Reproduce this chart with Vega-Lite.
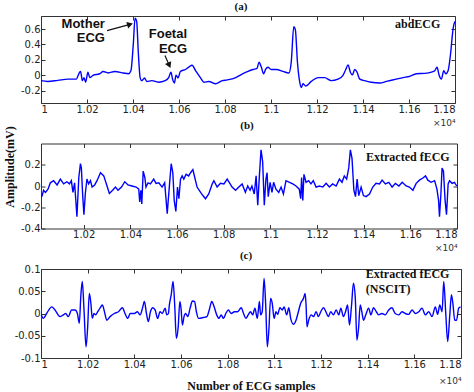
{
  "$schema": "https://vega.github.io/schema/vega-lite/v6.json",
  "padding": {"left": 2, "top": 0, "right": 2, "bottom": 2},
  "background": "white",
  "config": {
    "view": {"stroke": "#333333", "strokeWidth": 1},
    "axis": {"grid": false, "domain": false, "tickSize": -4, "tickColor": "#333333", "tickWidth": 1,
      "labelFont": "DejaVu Sans", "labelFontSize": 10, "labelColor": "#222222", "labelPadding": 5,
      "titleFont": "DejaVu Sans", "titleFontSize": 9, "titleFontWeight": "normal", "titleColor": "#333333"},
    "title": {"font": "Liberation Serif", "fontSize": 12, "fontWeight": "bold", "color": "#111111"}
  },
  "datasets": {
    "a": [
      {"s":10000,"v":-0.07},{"s":10029,"v":-0.08},{"s":10073,"v":-0.066},{"s":10117,"v":-0.05},{"s":10153,"v":-0.05},
      {"s":10168,"v":0.04},{"s":10172,"v":0.05},{"s":10180,"v":-0.07},{"s":10187,"v":-0.03},{"s":10194,"v":-0.09},
      {"s":10204,"v":0.04},{"s":10212,"v":-0.03},{"s":10226,"v":0},{"s":10255,"v":0.02},{"s":10270,"v":0.05},
      {"s":10292,"v":0.03},{"s":10321,"v":0.05},{"s":10358,"v":0.03},{"s":10380,"v":0.02},{"s":10391,"v":0.06},
      {"s":10401,"v":0.39},{"s":10409,"v":0.74},{"s":10416,"v":0.70},{"s":10423,"v":0.3},{"s":10431,"v":-0.03},
      {"s":10438,"v":-0.07},{"s":10450,"v":-0.035},{"s":10460,"v":-0.08},{"s":10482,"v":-0.07},{"s":10511,"v":-0.09},
      {"s":10540,"v":-0.07},{"s":10555,"v":-0.03},{"s":10565,"v":0.04},{"s":10572,"v":-0.05},{"s":10580,"v":-0.10},
      {"s":10587,"v":0},{"s":10596,"v":-0.035},{"s":10606,"v":0.05},{"s":10628,"v":0.075},{"s":10642,"v":0.105},
      {"s":10657,"v":0.13},{"s":10672,"v":0.06},{"s":10693,"v":-0.03},{"s":10708,"v":-0.09},{"s":10730,"v":-0.08},
      {"s":10759,"v":-0.11},{"s":10788,"v":-0.07},{"s":10810,"v":-0.06},{"s":10847,"v":-0.03},
      {"s":10878,"v":0.02},{"s":10900,"v":0.05},{"s":10922,"v":0.075},{"s":10939,"v":0.09},{"s":10948,"v":0.17},
      {"s":10958,"v":0.105},{"s":10968,"v":0.02},{"s":10977,"v":0.08},{"s":10987,"v":0.105},{"s":11001,"v":0.075},
      {"s":11023,"v":0.075},{"s":11052,"v":0.05},{"s":11078,"v":0.03},{"s":11088,"v":0.17},{"s":11099,"v":0.63},
      {"s":11106,"v":0.59},{"s":11115,"v":0.17},{"s":11125,"v":-0.09},{"s":11132,"v":-0.16},{"s":11139,"v":-0.11},
      {"s":11151,"v":-0.14},{"s":11175,"v":-0.08},{"s":11204,"v":-0.03},{"s":11233,"v":-0.03},{"s":11262,"v":-0.07},
      {"s":11291,"v":-0.05},{"s":11313,"v":0},{"s":11325,"v":0.075},{"s":11335,"v":0.135},{"s":11345,"v":0.04},
      {"s":11354,"v":0.005},{"s":11364,"v":0.075},{"s":11374,"v":0.04},{"s":11386,"v":-0.05},{"s":11407,"v":-0.07},
      {"s":11436,"v":-0.09},{"s":11473,"v":-0.10},{"s":11502,"v":-0.08},{"s":11545,"v":-0.05},{"s":11574,"v":-0.03},
      {"s":11603,"v":-0.015},{"s":11632,"v":0.02},{"s":11668,"v":0.025},{"s":11697,"v":0.04},{"s":11712,"v":0.06},
      {"s":11722,"v":0.105},{"s":11731,"v":0},{"s":11741,"v":-0.05},{"s":11751,"v":0.06},{"s":11760,"v":0.02},
      {"s":11770,"v":0.06},{"s":11780,"v":0.26},{"s":11792,"v":0.61},{"s":11799,"v":0.70}
    ],
    "b": [
      {"s":10021,"v":-0.10},{"s":10028,"v":-0.04},{"s":10036,"v":-0.06},{"s":10047,"v":-0.03},{"s":10057,"v":0.03},
      {"s":10071,"v":0.05},{"s":10086,"v":0.01},{"s":10100,"v":0.065},{"s":10114,"v":0.02},{"s":10128,"v":0.04},
      {"s":10139,"v":0.02},{"s":10147,"v":0.05},{"s":10154,"v":-0.06},{"s":10161,"v":0.03},{"s":10171,"v":-0.29},
      {"s":10179,"v":0.08},{"s":10186,"v":0.21},{"s":10190,"v":0.17},{"s":10196,"v":-0.10},{"s":10201,"v":-0.27},
      {"s":10207,"v":-0.07},{"s":10214,"v":0.065},{"s":10221,"v":0.02},{"s":10229,"v":0.05},{"s":10236,"v":-0.01},
      {"s":10247,"v":0.01},{"s":10257,"v":0.05},{"s":10272,"v":0.125},{"s":10286,"v":0.095},{"s":10300,"v":0},
      {"s":10310,"v":-0.07},{"s":10324,"v":-0.04},{"s":10336,"v":-0.01},{"s":10347,"v":-0.04},{"s":10362,"v":-0.01},
      {"s":10376,"v":0.04},{"s":10390,"v":0.01},{"s":10407,"v":0},{"s":10425,"v":-0.01},{"s":10436,"v":-0.03},
      {"s":10440,"v":-0.15},{"s":10445,"v":-0.04},{"s":10449,"v":-0.17},{"s":10455,"v":0.14},{"s":10462,"v":0.08},
      {"s":10467,"v":-0.01},{"s":10476,"v":0.03},{"s":10486,"v":0.02},{"s":10500,"v":0.065},{"s":10510,"v":0.025},
      {"s":10522,"v":0.03},{"s":10536,"v":-0.01},{"s":10547,"v":0.03},{"s":10558,"v":-0.26},{"s":10568,"v":0.02},
      {"s":10575,"v":0.21},{"s":10582,"v":0.125},{"s":10588,"v":-0.135},{"s":10595,"v":-0.24},{"s":10602,"v":-0.01},
      {"s":10608,"v":-0.12},{"s":10615,"v":0.065},{"s":10622,"v":0.095},{"s":10629,"v":0.065},{"s":10639,"v":0.11},
      {"s":10650,"v":0.095},{"s":10658,"v":0.125},{"s":10668,"v":0.155},{"s":10676,"v":0.08},{"s":10686,"v":-0.01},
      {"s":10701,"v":-0.06},{"s":10711,"v":-0.09},{"s":10722,"v":-0.12},{"s":10736,"v":-0.075},{"s":10751,"v":0.02},
      {"s":10758,"v":0.05},{"s":10772,"v":-0.01},{"s":10786,"v":0.025},{"s":10801,"v":0.02},{"s":10815,"v":0.065},
      {"s":10825,"v":0.03},{"s":10836,"v":-0.01},{"s":10851,"v":-0.04},{"s":10865,"v":-0.01},{"s":10879,"v":0.02},
      {"s":10893,"v":-0.06},{"s":10903,"v":0},{"s":10913,"v":-0.04},{"s":10921,"v":0},{"s":10931,"v":-0.075},
      {"s":10939,"v":0.095},{"s":10946,"v":-0.18},{"s":10953,"v":0.095},{"s":10960,"v":0.34},{"s":10967,"v":0.23},
      {"s":10974,"v":-0.18},{"s":10981,"v":0.065},{"s":10986,"v":0.125},{"s":10991,"v":-0.10},{"s":10999,"v":0.035},
      {"s":11007,"v":-0.06},{"s":11014,"v":0.035},{"s":11024,"v":-0.03},{"s":11036,"v":-0.06},{"s":11046,"v":-0.01},
      {"s":11056,"v":-0.075},{"s":11067,"v":0.05},{"s":11082,"v":0.035},{"s":11096,"v":0.02},{"s":11110,"v":0},
      {"s":11124,"v":-0.03},{"s":11130,"v":-0.12},{"s":11134,"v":0.08},{"s":11139,"v":-0.135},{"s":11144,"v":0.11},
      {"s":11153,"v":0.035},{"s":11164,"v":0.05},{"s":11174,"v":0.02},{"s":11184,"v":0.05},{"s":11196,"v":-0.01},
      {"s":11210,"v":0},{"s":11225,"v":-0.01},{"s":11239,"v":0.025},{"s":11253,"v":-0.01},{"s":11267,"v":0.02},
      {"s":11282,"v":0},{"s":11296,"v":0.065},{"s":11307,"v":0.035},{"s":11317,"v":0.095},{"s":11327,"v":0.065},
      {"s":11336,"v":0.17},{"s":11343,"v":0.34},{"s":11350,"v":0.26},{"s":11358,"v":-0.04},{"s":11365,"v":-0.10},
      {"s":11372,"v":0.065},{"s":11379,"v":-0.09},{"s":11389,"v":-0.01},{"s":11399,"v":-0.09},{"s":11410,"v":-0.10},
      {"s":11425,"v":-0.075},{"s":11439,"v":-0.01},{"s":11453,"v":0.025},{"s":11468,"v":0.02},{"s":11479,"v":0.055},
      {"s":11493,"v":0.02},{"s":11508,"v":0.035},{"s":11522,"v":-0.01},{"s":11536,"v":0.025},{"s":11551,"v":0},
      {"s":11565,"v":0.035},{"s":11582,"v":0},{"s":11596,"v":-0.01},{"s":11611,"v":-0.04},{"s":11625,"v":0.025},
      {"s":11639,"v":0.055},{"s":11654,"v":0.075},{"s":11665,"v":0.095},{"s":11675,"v":0.055},{"s":11689,"v":0.035},
      {"s":11704,"v":0.05},{"s":11714,"v":-0.03},{"s":11721,"v":-0.135},{"s":11725,"v":-0.29},{"s":11731,"v":-0.075},
      {"s":11736,"v":0.17},{"s":11742,"v":0.14},{"s":11749,"v":-0.135},{"s":11755,"v":-0.27},{"s":11762,"v":0.02},
      {"s":11768,"v":0.05},{"s":11779,"v":0.025},{"s":11789,"v":0.035},{"s":11799,"v":0}
    ],
    "c": [
      {"s":10001,"v":-0.003},{"s":10010,"v":-0.011},{"s":10024,"v":0},{"s":10046,"v":0.015},{"s":10060,"v":0.008},
      {"s":10081,"v":-0.007},{"s":10096,"v":-0.003},{"s":10106,"v":0},{"s":10117,"v":-0.007},{"s":10131,"v":0.008},
      {"s":10146,"v":0.008},{"s":10156,"v":0},{"s":10164,"v":-0.022},{"s":10171,"v":0.042},{"s":10177,"v":0.072},
      {"s":10184,"v":0.012},{"s":10193,"v":-0.075},{"s":10200,"v":-0.03},{"s":10207,"v":0.045},{"s":10213,"v":0.027},
      {"s":10220,"v":-0.011},{"s":10227,"v":0},{"s":10234,"v":-0.003},{"s":10243,"v":0.004},{"s":10253,"v":0.012},
      {"s":10263,"v":0.019},{"s":10272,"v":0.004},{"s":10282,"v":-0.015},{"s":10296,"v":-0.007},{"s":10314,"v":0},
      {"s":10332,"v":0.004},{"s":10349,"v":0.013},{"s":10360,"v":0},{"s":10372,"v":-0.011},{"s":10382,"v":0},
      {"s":10400,"v":0},{"s":10413,"v":0.004},{"s":10425,"v":-0.003},{"s":10435,"v":0.012},{"s":10443,"v":0.027},
      {"s":10452,"v":0},{"s":10460,"v":-0.018},{"s":10469,"v":0.004},{"s":10479,"v":0.013},{"s":10489,"v":0.008},
      {"s":10500,"v":-0.011},{"s":10510,"v":0.004},{"s":10520,"v":0},{"s":10532,"v":0.012},{"s":10539,"v":-0.003},
      {"s":10546,"v":0},{"s":10550,"v":0.019},{"s":10558,"v":0.042},{"s":10566,"v":0.072},{"s":10573,"v":0.019},
      {"s":10580,"v":-0.056},{"s":10588,"v":-0.03},{"s":10595,"v":0.027},{"s":10600,"v":0.012},{"s":10606,"v":-0.026},
      {"s":10613,"v":-0.007},{"s":10620,"v":0},{"s":10629,"v":-0.007},{"s":10639,"v":0.012},{"s":10649,"v":0.028},
      {"s":10658,"v":0.027},{"s":10666,"v":0.004},{"s":10675,"v":-0.011},{"s":10696,"v":-0.009},{"s":10711,"v":-0.007},
      {"s":10721,"v":0.008},{"s":10732,"v":0.027},{"s":10742,"v":0.015},{"s":10753,"v":-0.003},{"s":10763,"v":-0.011},
      {"s":10772,"v":-0.003},{"s":10782,"v":-0.011},{"s":10792,"v":0},{"s":10803,"v":0.008},{"s":10815,"v":0},
      {"s":10829,"v":0.004},{"s":10843,"v":0.004},{"s":10858,"v":0.013},{"s":10868,"v":0},{"s":10878,"v":-0.011},
      {"s":10888,"v":-0.003},{"s":10898,"v":0.004},{"s":10907,"v":-0.003},{"s":10917,"v":0.012},{"s":10927,"v":-0.011},
      {"s":10936,"v":0.027},{"s":10941,"v":-0.003},{"s":10948,"v":0.004},{"s":10956,"v":0.079},{"s":10963,"v":0.019},
      {"s":10970,"v":-0.075},{"s":10977,"v":-0.033},{"s":10984,"v":0.034},{"s":10991,"v":0.023},{"s":10999,"v":-0.011},
      {"s":11007,"v":0.004},{"s":11014,"v":-0.002},{"s":11024,"v":0.013},{"s":11034,"v":0.008},{"s":11042,"v":0.015},
      {"s":11053,"v":-0.003},{"s":11062,"v":0.013},{"s":11070,"v":-0.011},{"s":11082,"v":-0.024},{"s":11093,"v":-0.015},
      {"s":11103,"v":0.004},{"s":11113,"v":0.023},{"s":11125,"v":0.034},{"s":11132,"v":0.045},{"s":11136,"v":0.019},
      {"s":11140,"v":-0.03},{"s":11147,"v":-0.015},{"s":11158,"v":-0.003},{"s":11168,"v":-0.007},{"s":11179,"v":0.004},
      {"s":11189,"v":-0.007},{"s":11199,"v":0.004},{"s":11211,"v":0.013},{"s":11221,"v":0.004},{"s":11231,"v":-0.007},
      {"s":11242,"v":0.004},{"s":11253,"v":-0.003},{"s":11265,"v":0.008},{"s":11276,"v":-0.003},{"s":11285,"v":0.012},
      {"s":11296,"v":-0.007},{"s":11305,"v":0.004},{"s":11314,"v":0.019},{"s":11322,"v":-0.026},{"s":11331,"v":0.019},
      {"s":11339,"v":0.068},{"s":11347,"v":0.034},{"s":11354,"v":-0.06},{"s":11361,"v":-0.033},{"s":11368,"v":0.019},
      {"s":11375,"v":0.004},{"s":11382,"v":-0.015},{"s":11392,"v":-0.003},{"s":11404,"v":0.012},{"s":11414,"v":-0.003},
      {"s":11425,"v":0.013},{"s":11437,"v":0.004},{"s":11447,"v":-0.003},{"s":11461,"v":0},{"s":11475,"v":-0.003},
      {"s":11490,"v":0.008},{"s":11504,"v":0.013},{"s":11518,"v":0},{"s":11533,"v":-0.003},{"s":11547,"v":0.004},
      {"s":11561,"v":0},{"s":11576,"v":-0.002},{"s":11590,"v":0.008},{"s":11604,"v":0},{"s":11619,"v":0.004},
      {"s":11633,"v":0.012},{"s":11647,"v":-0.003},{"s":11662,"v":0.004},{"s":11676,"v":-0.007},{"s":11690,"v":0.015},
      {"s":11700,"v":-0.002},{"s":11709,"v":0.019},{"s":11719,"v":0.004},{"s":11726,"v":0.072},{"s":11735,"v":-0.003},
      {"s":11743,"v":-0.063},{"s":11752,"v":-0.003},{"s":11759,"v":0.042},{"s":11766,"v":0.019},{"s":11773,"v":-0.015},
      {"s":11781,"v":-0.015},{"s":11790,"v":0.012},{"s":11798,"v":0.015}
    ],
    "annA": [
      {"s":10278,"v":0.61,"t":"Mother"},{"s":10278,"v":0.43,"t":"ECG"},
      {"s":10635,"v":0.483,"t":"Foetal"},{"s":10635,"v":0.293,"t":"ECG"}
    ],
    "abd": [{"s":11539,"v":0.614,"t":"abdECG"}],
    "arrows": [{"s":10287,"v":0.58,"s2":10383,"v2":0.658},{"s":10539,"v":0.257,"s2":10556,"v2":0.141}],
    "head1": [{"s":10383,"v":0.658}],
    "head2": [{"s":10556,"v":0.141}],
    "annB": [{"s":11410,"v":0.236,"t":"Extracted fECG"}],
    "annC": [{"s":11392,"v":0.080,"t":"Extracted fECG"},{"s":11392,"v":0.047,"t":"(NSCIT)"}]
  },
  "vconcat": [
    {
      "width": 414, "height": 87,
      "title": {"text": "(a)", "fontSize": 11, "offset": 4, "dx": -7},
      "layer": [
        {
          "data": {"name": "a"},
          "mark": {"type": "line", "color": "#0000ff", "strokeWidth": 1.4, "interpolate": "monotone"},
          "encoding": {
            "x": {"field": "s", "type": "quantitative", "scale": {"domain": [10000, 11800], "nice": false, "zero": false},
              "axis": {"orient": "bottom", "values": [10000,10200,10400,10600,10800,11000,11200,11400,11600,11800], "labelExpr": "format(datum.value/10000, '.3~g')", "title": "×10⁴", "titleAnchor": "end", "titlePadding": 4}},
            "y": {"field": "v", "type": "quantitative", "scale": {"domain": [-0.36, 0.77], "nice": false, "zero": false},
              "axis": {"orient": "left", "values": [-0.2,0,0.2,0.4,0.6], "labelExpr": "replace(format(datum.value, '~g'), '−', '-')", "title": null}}
          }
        },
        {
          "data": {"name": "a"},
          "mark": {"type": "line", "opacity": 0},
          "encoding": {
            "x": {"field": "s", "type": "quantitative", "scale": {"domain": [10000, 11800], "nice": false, "zero": false},
              "axis": {"orient": "top", "values": [10000,10200,10400,10600,10800,11000,11200,11400,11600,11800], "labels": false, "title": null}},
            "y": {"field": "v", "type": "quantitative", "scale": {"domain": [-0.36, 0.77], "nice": false, "zero": false},
              "axis": {"orient": "right", "values": [-0.2,0,0.2,0.4,0.6], "labels": false, "title": null}}
          }
        },
        {
          "data": {"name": "annA"},
          "mark": {"type": "text", "align": "right", "baseline": "alphabetic", "font": "Liberation Sans", "fontSize": 13, "fontWeight": "bold", "color": "#111111"},
          "encoding": {
            "x": {"field": "s", "type": "quantitative", "axis": null, "scale": {"domain": [10000, 11800], "nice": false, "zero": false}},
            "y": {"field": "v", "type": "quantitative", "axis": null, "scale": {"domain": [-0.36, 0.77], "nice": false, "zero": false}},
            "text": {"field": "t"}
          }
        },
        {
          "data": {"name": "abd"},
          "mark": {"type": "text", "align": "left", "baseline": "alphabetic", "font": "Liberation Serif", "fontSize": 12, "fontWeight": "bold", "color": "#111111"},
          "encoding": {
            "x": {"field": "s", "type": "quantitative", "axis": null, "scale": {"domain": [10000, 11800], "nice": false, "zero": false}},
            "y": {"field": "v", "type": "quantitative", "axis": null, "scale": {"domain": [-0.36, 0.77], "nice": false, "zero": false}},
            "text": {"field": "t"}
          }
        },
        {
          "data": {"name": "arrows"},
          "mark": {"type": "rule", "color": "#111111", "strokeWidth": 1.2},
          "encoding": {
            "x": {"field": "s", "type": "quantitative", "axis": null, "scale": {"domain": [10000, 11800], "nice": false, "zero": false}},
            "y": {"field": "v", "type": "quantitative", "axis": null, "scale": {"domain": [-0.36, 0.77], "nice": false, "zero": false}},
            "x2": {"field": "s2"},
            "y2": {"field": "v2"}
          }
        },
        {
          "data": {"name": "head1"},
          "mark": {"type": "point", "shape": "triangle", "angle": 74, "size": 45, "filled": true, "color": "#111111", "opacity": 1},
          "encoding": {
            "x": {"field": "s", "type": "quantitative", "axis": null, "scale": {"domain": [10000, 11800], "nice": false, "zero": false}},
            "y": {"field": "v", "type": "quantitative", "axis": null, "scale": {"domain": [-0.36, 0.77], "nice": false, "zero": false}}
          }
        },
        {
          "data": {"name": "head2"},
          "mark": {"type": "point", "shape": "triangle", "angle": 156, "size": 45, "filled": true, "color": "#111111", "opacity": 1},
          "encoding": {
            "x": {"field": "s", "type": "quantitative", "axis": null, "scale": {"domain": [10000, 11800], "nice": false, "zero": false}},
            "y": {"field": "v", "type": "quantitative", "axis": null, "scale": {"domain": [-0.36, 0.77], "nice": false, "zero": false}}
          }
        }
      ],
      "resolve": {"axis": {"x": "independent", "y": "independent"}}
    },
    {
      "width": 416, "height": 85,
      "title": {"text": "(b)", "fontSize": 11, "offset": -5, "dx": -2},
      "layer": [
        {
          "data": {"name": "b"},
          "mark": {"type": "line", "color": "#0000ff", "strokeWidth": 1.4},
          "encoding": {
            "x": {"field": "s", "type": "quantitative", "scale": {"domain": [10017, 11800], "nice": false, "zero": false},
              "axis": {"orient": "bottom", "values": [10200,10400,10600,10800,11000,11200,11400,11600,11800], "labelExpr": "format(datum.value/10000, '.3~g')", "title": "×10⁴", "titleAnchor": "end", "titlePadding": 4}},
            "y": {"field": "v", "type": "quantitative", "scale": {"domain": [-0.4, 0.4], "nice": false, "zero": false},
              "axis": {"orient": "left", "values": [-0.4,-0.2,0,0.2], "labelExpr": "replace(format(datum.value, '~g'), '−', '-')",
                "title": "Amplitude(mV)", "titleFont": "Liberation Serif", "titleFontSize": 12, "titleFontWeight": "bold", "titleColor": "#111111", "titlePadding": 4, "titleY": 23}}
          }
        },
        {
          "data": {"name": "b"},
          "mark": {"type": "line", "opacity": 0},
          "encoding": {
            "x": {"field": "s", "type": "quantitative", "scale": {"domain": [10017, 11800], "nice": false, "zero": false},
              "axis": {"orient": "top", "values": [10200,10400,10600,10800,11000,11200,11400,11600,11800], "labels": false, "title": null}},
            "y": {"field": "v", "type": "quantitative", "scale": {"domain": [-0.4, 0.4], "nice": false, "zero": false},
              "axis": {"orient": "right", "values": [-0.4,-0.2,0,0.2], "labels": false, "title": null}}
          }
        },
        {
          "data": {"name": "annB"},
          "mark": {"type": "text", "align": "left", "baseline": "alphabetic", "font": "Liberation Serif", "fontSize": 12, "fontWeight": "bold", "color": "#111111"},
          "encoding": {
            "x": {"field": "s", "type": "quantitative", "axis": null, "scale": {"domain": [10017, 11800], "nice": false, "zero": false}},
            "y": {"field": "v", "type": "quantitative", "axis": null, "scale": {"domain": [-0.4, 0.4], "nice": false, "zero": false}},
            "text": {"field": "t"}
          }
        }
      ],
      "resolve": {"axis": {"x": "independent", "y": "independent"}}
    },
    {
      "width": 420, "height": 89,
      "title": {"text": "(c)", "fontSize": 11, "offset": 3, "dx": -5},
      "layer": [
        {
          "data": {"name": "c"},
          "mark": {"type": "line", "color": "#0000ff", "strokeWidth": 1.4, "interpolate": "monotone"},
          "encoding": {
            "x": {"field": "s", "type": "quantitative", "scale": {"domain": [10000, 11800], "nice": false, "zero": false},
              "axis": {"orient": "bottom", "values": [10000,10200,10400,10600,10800,11000,11200,11400,11600,11800], "labelExpr": "format(datum.value/10000, '.3~g')", "title": "×10⁴", "titleAnchor": "end", "titlePadding": 7}},
            "y": {"field": "v", "type": "quantitative", "scale": {"domain": [-0.1, 0.1], "nice": false, "zero": false},
              "axis": {"orient": "left", "values": [-0.1,-0.05,0,0.05,0.1], "labelExpr": "replace(format(datum.value, '~g'), '−', '-')", "title": null}}
          }
        },
        {
          "data": {"name": "c"},
          "mark": {"type": "line", "opacity": 0},
          "encoding": {
            "x": {"field": "s", "type": "quantitative", "scale": {"domain": [10000, 11800], "nice": false, "zero": false},
              "axis": {"orient": "top", "values": [10000,10200,10400,10600,10800,11000,11200,11400,11600,11800], "labels": false, "title": null}},
            "y": {"field": "v", "type": "quantitative", "scale": {"domain": [-0.1, 0.1], "nice": false, "zero": false},
              "axis": {"orient": "right", "values": [-0.1,-0.05,0,0.05,0.1], "labels": false, "title": null}}
          }
        },
        {
          "data": {"name": "annC"},
          "mark": {"type": "text", "align": "left", "baseline": "alphabetic", "font": "Liberation Serif", "fontSize": 12, "fontWeight": "bold", "color": "#111111"},
          "encoding": {
            "x": {"field": "s", "type": "quantitative", "axis": null, "scale": {"domain": [10000, 11800], "nice": false, "zero": false}},
            "y": {"field": "v", "type": "quantitative", "axis": null, "scale": {"domain": [-0.1, 0.1], "nice": false, "zero": false}},
            "text": {"field": "t"}
          }
        }
      ],
      "resolve": {"axis": {"x": "independent", "y": "independent"}}
    }
  ],
  "spacing": 40.5,
  "bounds": "flush",
  "title": {"text": "Number of ECG samples", "orient": "bottom", "anchor": "middle", "offset": -5, "fontSize": 12, "dx": 18}
}
